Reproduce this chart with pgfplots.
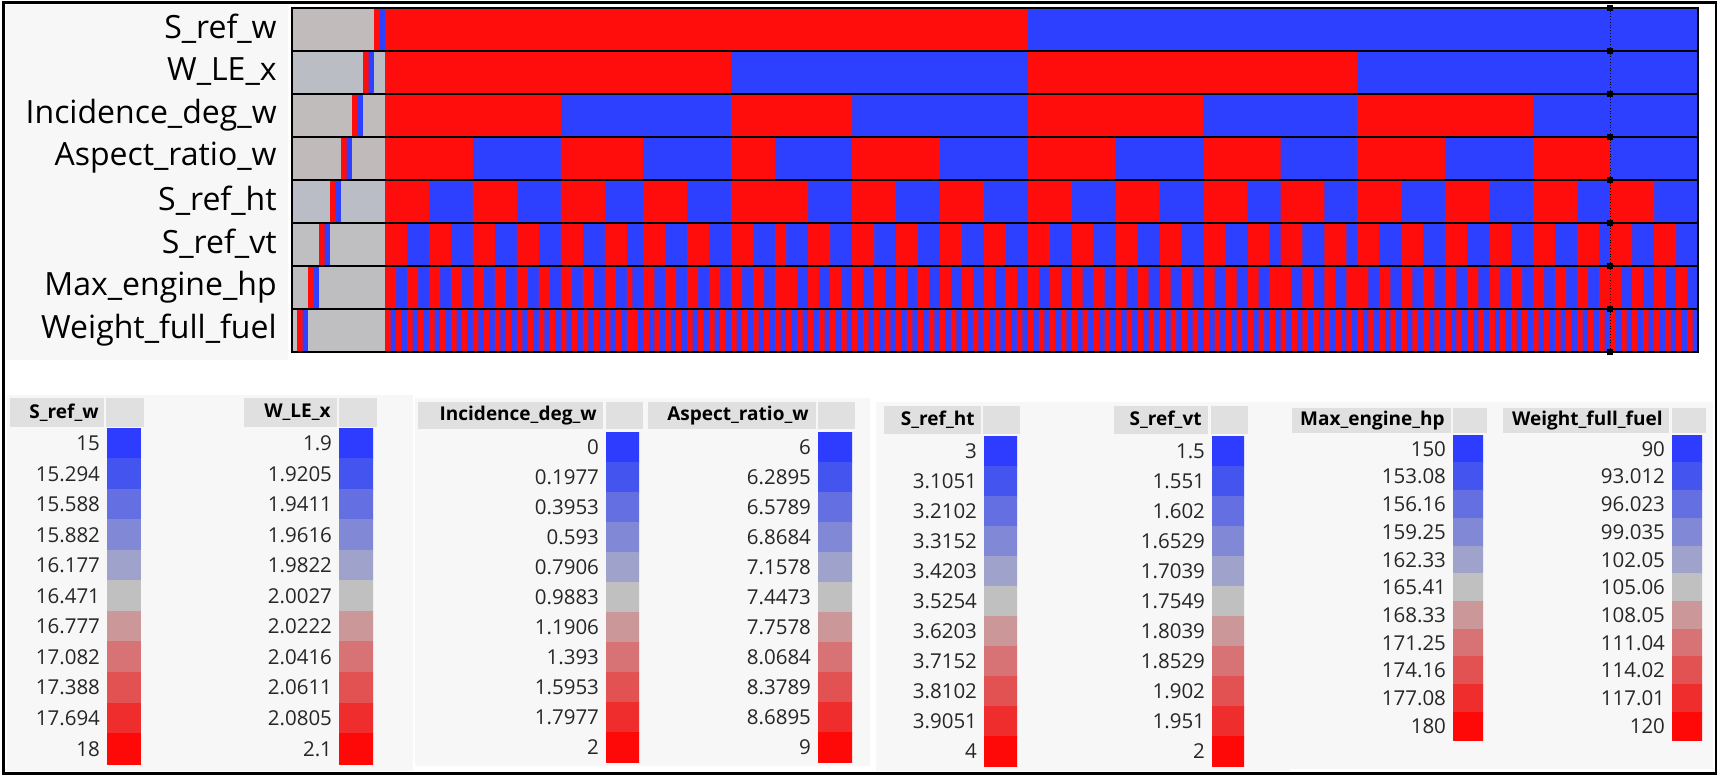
\documentclass[border=0pt]{standalone}
\usepackage{pgfplots}
\pgfplotsset{compat=1.18}
\usepackage{pgfplotstable}
\usepackage{fontspec}
\setmainfont{Open Sans}

\definecolor{cred}{RGB}{255,12,12}
\definecolor{cblue}{RGB}{46,64,255}
\definecolor{panel}{RGB}{247,247,247}
\definecolor{hdr}{RGB}{224,224,224}
\definecolor{gA}{RGB}{193,187,187}
\definecolor{gB}{RGB}{187,189,197}
\definecolor{gC}{RGB}{193,188,188}
\definecolor{gD}{RGB}{193,186,186}
\definecolor{gE}{RGB}{186,188,198}
\definecolor{gF}{RGB}{191,191,193}
\definecolor{gG}{RGB}{190,190,192}
\definecolor{gH}{RGB}{191,191,193}

\pgfplotsset{
  colormap={jmp}{rgb255=(45,60,255) rgb255=(68,84,238) rgb255=(100,112,225)
    rgb255=(129,137,214) rgb255=(159,163,204) rgb255=(192,192,192)
    rgb255=(204,151,152) rgb255=(215,115,116) rgb255=(227,82,83)
    rgb255=(240,45,45) rgb255=(255,8,8)},
  cellrow/.style={anchor=north west, scale only axis, width=703.15pt, height=21.5pt,
    xmin=0, xmax=256, ymin=0, ymax=1, xtick=\empty, ytick={0.5},
    tick style={draw=none}, axis on top,
    axis line style={black, line width=1pt},
    axis background/.style={fill=cblue},
    yticklabel style={font=\fontsize{16}{19}\selectfont, xshift=-4pt}},
  legbar/.style={anchor=north west, scale only axis,
    xmin=0, xmax=1, ymin=0, ymax=11, y dir=reverse,
    xtick=\empty, ytick={0.5,1.5,...,10.5}, tick style={draw=none},
    axis line style={draw=none}, colormap name=jmp,
    point meta min=0, point meta max=10,
    yticklabel style={font=\fontsize{10.25}{12}\selectfont, text=black!85}},
}

% one colour bar, the same for all eight legends
\pgfplotstableread{
x y c
0 0 0
1 0 0
1 1 0
0 1 0
0 1 1
1 1 1
1 2 1
0 2 1
0 2 2
1 2 2
1 3 2
0 3 2
0 3 3
1 3 3
1 4 3
0 4 3
0 4 4
1 4 4
1 5 4
0 5 4
0 5 5
1 5 5
1 6 5
0 6 5
0 6 6
1 6 6
1 7 6
0 7 6
0 7 7
1 7 7
1 8 7
0 8 7
0 8 8
1 8 8
1 9 8
0 9 8
0 9 9
1 9 9
1 10 9
0 10 9
0 10 10
1 10 10
1 11 10
0 11 10
}\legtab

% #1 top, #2 label, #3 gray, #4 gray steps, #5 red steps
\newcommand\cellrow[5]{%
\begin{axis}[cellrow, at={(145.85pt,#1)}, yticklabels={#2}]
\addplot[const plot, fill=#3, draw=none] coordinates {#4} \closedcycle;
\addplot[const plot, fill=cred, draw=none] coordinates {#5} \closedcycle;
\addplot[black, densely dotted, line width=0.4pt] coordinates {(240,0) (240,1)};
\addplot[only marks, mark=square*, mark size=1.2pt, black] coordinates {(240,0) (240,1)};
\end{axis}}

% #1 x, #2 y, #3 width, #4 height, #5 tick labels
\newcommand\legbar[5]{%
\begin{axis}[legbar, at={(#1,#2)}, width=#3, height=#4, yticklabels={#5}]
\addplot[patch, patch type=rectangle, shader=flat, point meta=explicit]
  table[meta=c] {\legtab};
\end{axis}}

\begin{document}
\begin{tikzpicture}
\path[use as bounding box] (0,0) rectangle (860pt,-389pt);

\begin{scope}[x=0.5pt, y=-0.5pt]
\fill[panel] (6,5) rectangle (288,360);
\fill[panel] (7,395) rectangle (413,771);
\fill[panel] (415,398) rectangle (870,766);
\fill[panel] (876,402) rectangle (1290,771);
\fill[panel] (1290,402) rectangle (1713,769);

\fill[hdr] (10,398) rectangle (104,427);   \fill[hdr] (106,398) rectangle (144,427);
\fill[hdr] (244,398) rectangle (337,427);  \fill[hdr] (339,398) rectangle (377,427);
\fill[hdr] (418,402) rectangle (603,429);  \fill[hdr] (606,402) rectangle (643,429);
\fill[hdr] (648,402) rectangle (816,429);  \fill[hdr] (818,402) rectangle (855,429);
\fill[hdr] (884,406) rectangle (981,434);  \fill[hdr] (983,406) rectangle (1020,434);
\fill[hdr] (1114,406) rectangle (1208,434); \fill[hdr] (1211,406) rectangle (1248,434);
\fill[hdr] (1292,408) rectangle (1451,433); \fill[hdr] (1453,408) rectangle (1487,433);
\fill[hdr] (1503,408) rectangle (1669,433); \fill[hdr] (1672,408) rectangle (1706,433);

\begin{scope}[every node/.style={anchor=east, inner sep=0pt,
    font=\bfseries\fontsize{9.5}{11}\selectfont}]
\node at (99,412.5) {S\_ref\_w};
\node at (331,412.5) {W\_LE\_x};
\node at (597,415.5) {Incidence\_deg\_w};
\node at (809,415.5) {Aspect\_ratio\_w};
\node at (975,420) {S\_ref\_ht};
\node at (1202,420) {S\_ref\_vt};
\node at (1445,420.5) {Max\_engine\_hp};
\node at (1663,420.5) {Weight\_full\_fuel};
\end{scope}
\end{scope}

\cellrow{-3.75pt}{S\_ref\_w}{gA}{(0,1) (15,0) (17,0)}
  {(15,1) (16,0) (17,1) (134,0) (256,0)}
\cellrow{-25.25pt}{W\_LE\_x}{gB}{(0,1) (13,0) (15,1) (17,0)}
  {(13,1) (14,0) (17,1) (80,0) (134,1) (194,0) (256,0)}
\cellrow{-46.75pt}{Incidence\_deg\_w}{gC}{(0,1) (11,0) (13,1) (17,0)}
  {(11,1) (12,0) (17,1) (49,0) (80,1) (102,0) (134,1) (166,0) (194,1) (226,0) (256,0)}
\cellrow{-68.25pt}{Aspect\_ratio\_w}{gD}{(0,1) (9,0) (11,1) (17,0)}
  {(9,1) (10,0) (17,1) (33,0) (49,1) (64,0) (80,1) (88,0) (102,1) (118,0) (134,1)
   (150,0) (166,1) (180,0) (194,1) (210,0) (226,1) (240,0) (256,0)}
\cellrow{-89.75pt}{S\_ref\_ht}{gE}{(0,1) (7,0) (9,1) (17,0)}
  {(7,1) (8,0) (17,1) (25,0) (33,1) (41,0) (49,1) (57,0) (64,1) (72,0) (80,1) (94,0)
   (102,1) (110,0) (118,1) (126,0) (134,1) (142,0) (150,1) (158,0) (166,1) (174,0)
   (180,1) (188,0) (194,1) (202,0) (210,1) (218,0) (226,1) (234,0) (240,1) (248,0) (256,0)}
\cellrow{-111.25pt}{S\_ref\_vt}{gF}{(0,1) (5,0) (7,1) (17,0)}
  {(5,1) (6,0) (17,1) (21,0) (25,1) (29,0) (33,1) (37,0) (41,1) (45,0) (49,1) (53,0)
   (57,1) (61,0) (64,1) (68,0) (72,1) (76,0) (80,1) (84,0) (88,1) (90,0) (94,1) (98,0)
   (102,1) (106,0) (110,1) (114,0) (118,1) (122,0) (126,1) (130,0) (134,1) (138,0)
   (142,1) (146,0) (150,1) (154,0) (158,1) (162,0) (166,1) (170,0) (174,1) (178,0)
   (180,1) (184,0) (188,1) (192,0) (194,1) (198,0) (202,1) (206,0) (210,1) (214,0)
   (218,1) (222,0) (226,1) (230,0) (234,1) (238,0) (240,1) (244,0) (248,1) (252,0) (256,0)}
\cellrow{-132.75pt}{Max\_engine\_hp}{gG}{(0,1) (3,0) (5,1) (17,0)}
  {(3,1) (4,0) (17,1) (19,0) (21,1) (23,0) (25,1) (27,0) (29,1) (31,0) (33,1) (35,0)
   (37,1) (39,0) (41,1) (43,0) (45,1) (47,0) (49,1) (51,0) (53,1) (55,0) (57,1) (59,0)
   (61,1) (62,0) (64,1) (66,0) (68,1) (70,0) (72,1) (74,0) (76,1) (78,0) (80,1) (82,0)
   (84,1) (86,0) (88,1) (92,0) (94,1) (96,0) (98,1) (100,0) (102,1) (104,0) (106,1)
   (108,0) (110,1) (112,0) (114,1) (116,0) (118,1) (120,0) (122,1) (124,0) (126,1)
   (128,0) (130,1) (132,0) (134,1) (136,0) (138,1) (140,0) (142,1) (144,0) (146,1)
   (148,0) (150,1) (152,0) (154,1) (156,0) (158,1) (160,0) (162,1) (164,0) (166,1)
   (168,0) (170,1) (172,0) (174,1) (176,0) (178,1) (182,0) (184,1) (186,0) (188,1)
   (190,0) (192,1) (196,0) (198,1) (200,0) (202,1) (204,0) (206,1) (208,0) (210,1)
   (212,0) (214,1) (216,0) (218,1) (220,0) (222,1) (224,0) (226,1) (228,0) (230,1)
   (232,0) (234,1) (236,0) (238,1) (242,0) (244,1) (246,0) (248,1) (250,0) (252,1)
   (254,0) (256,0)}
\cellrow{-154.25pt}{Weight\_full\_fuel}{gH}{(0,1) (1,0) (3,1) (17,0)}
  {(1,1) (2,0) (17,1) (18,0) (19,1) (20,0) (21,1) (22,0) (23,1) (24,0) (25,1) (26,0)
   (27,1) (28,0) (29,1) (30,0) (31,1) (32,0) (33,1) (34,0) (35,1) (36,0) (37,1) (38,0)
   (39,1) (40,0) (41,1) (42,0) (43,1) (44,0) (45,1) (46,0) (47,1) (48,0) (49,1) (50,0)
   (51,1) (52,0) (53,1) (54,0) (55,1) (56,0) (57,1) (58,0) (59,1) (60,0) (61,1) (63,0)
   (64,1) (65,0) (66,1) (67,0) (68,1) (69,0) (70,1) (71,0) (72,1) (73,0) (74,1) (75,0)
   (76,1) (77,0) (78,1) (79,0) (80,1) (81,0) (82,1) (83,0) (84,1) (85,0) (86,1) (87,0)
   (88,1) (89,0) (90,1) (91,0) (92,1) (93,0) (94,1) (95,0) (96,1) (97,0) (98,1) (99,0)
   (100,1) (101,0) (102,1) (103,0) (104,1) (105,0) (106,1) (107,0) (108,1) (109,0)
   (110,1) (111,0) (112,1) (113,0) (114,1) (115,0) (116,1) (117,0) (118,1) (119,0)
   (120,1) (121,0) (122,1) (123,0) (124,1) (125,0) (126,1) (127,0) (128,1) (129,0)
   (130,1) (131,0) (132,1) (133,0) (134,1) (135,0) (136,1) (137,0) (138,1) (139,0)
   (140,1) (141,0) (142,1) (143,0) (144,1) (145,0) (146,1) (147,0) (148,1) (149,0)
   (150,1) (151,0) (152,1) (153,0) (154,1) (155,0) (156,1) (157,0) (158,1) (159,0)
   (160,1) (161,0) (162,1) (163,0) (164,1) (165,0) (166,1) (167,0) (168,1) (169,0)
   (170,1) (171,0) (172,1) (173,0) (174,1) (175,0) (176,1) (177,0) (178,1) (179,0)
   (180,1) (181,0) (182,1) (183,0) (184,1) (185,0) (186,1) (187,0) (188,1) (189,0)
   (190,1) (191,0) (192,1) (193,0) (194,1) (195,0) (196,1) (197,0) (198,1) (199,0)
   (200,1) (201,0) (202,1) (203,0) (204,1) (205,0) (206,1) (207,0) (208,1) (209,0)
   (210,1) (211,0) (212,1) (213,0) (214,1) (215,0) (216,1) (217,0) (218,1) (219,0)
   (220,1) (221,0) (222,1) (223,0) (224,1) (225,0) (226,1) (227,0) (228,1) (229,0)
   (230,1) (231,0) (232,1) (233,0) (234,1) (235,0) (236,1) (237,0) (238,1) (239,0)
   (240,1) (241,0) (242,1) (243,0) (244,1) (245,0) (246,1) (247,0) (248,1) (249,0)
   (250,1) (251,0) (252,1) (253,0) (254,1) (255,0) (256,0)}

\legbar{53.5pt}{-214pt}{17pt}{168pt}
  {15,15.294,15.588,15.882,16.177,16.471,16.777,17.082,17.388,17.694,18}
\legbar{169.5pt}{-214pt}{17pt}{168pt}
  {1.9,1.9205,1.9411,1.9616,1.9822,2.0027,2.0222,2.0416,2.0611,2.0805,2.1}
\legbar{303pt}{-216pt}{16.5pt}{165pt}
  {0,0.1977,0.3953,0.593,0.7906,0.9883,1.1906,1.393,1.5953,1.7977,2}
\legbar{409pt}{-216pt}{17pt}{165pt}
  {6,6.2895,6.5789,6.8684,7.1578,7.4473,7.7578,8.0684,8.3789,8.6895,9}
\legbar{492pt}{-218pt}{16.5pt}{165pt}
  {3,3.1051,3.2102,3.3152,3.4203,3.5254,3.6203,3.7152,3.8102,3.9051,4}
\legbar{606pt}{-218pt}{16pt}{165pt}
  {1.5,1.551,1.602,1.6529,1.7039,1.7549,1.8039,1.8529,1.902,1.951,2}
\legbar{726.5pt}{-217.5pt}{15pt}{152.5pt}
  {150,153.08,156.16,159.25,162.33,165.41,168.33,171.25,174.16,177.08,180}
\legbar{836pt}{-217.5pt}{15pt}{152.5pt}
  {90,93.012,96.023,99.035,102.05,105.06,108.05,111.04,114.02,117.01,120}

\draw[line width=1.2pt] (1.75pt,-1.25pt) rectangle (858pt,-386.75pt);
\end{tikzpicture}
\end{document}
